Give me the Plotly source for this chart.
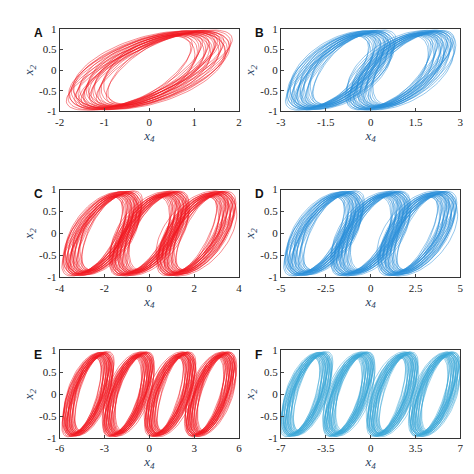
import numpy as np
import plotly.graph_objects as go

panels = ["A", "B", "C", "D", "E", "F"]
x_ranges = [2, 3, 4, 5, 6, 7]
x_ticks = [[-2, -1, 0, 1, 2], [-3, -1.5, 0, 1.5, 3], [-4, -2, 0, 2, 4],
           [-5, -2.5, 0, 2.5, 5], [-6, -3, 0, 3, 6], [-7, -3.5, 0, 3.5, 7]]
x_ticklabels = [["-2", "-1", "0", "1", "2"], ["-3", "-1.5", "0", "1.5", "3"],
                ["-4", "-2", "0", "2", "4"], ["-5", "-2.5", "0", "2.5", "5"],
                ["-6", "-3", "0", "3", "6"], ["-7", "-3.5", "0", "3.5", "7"]]
scroll_centers = [[0], [-1.0, 1.0], [-2.1, 0, 2.1], [-2.6, 0, 2.6],
                  [-4.1, -1.4, 1.4, 4.1], [-5.0, -1.7, 1.7, 5.0]]
scroll_rx = [1.85, 1.85, 1.8, 2.25, 1.75, 2.05]
loop_scales = [1.0, 0.98, 0.96, 0.94, 0.92, 0.9, 0.88, 0.86, 0.84, 0.82,
               0.8, 0.78, 0.76, 0.74, 0.72, 0.7, 0.68, 0.66, 0.64, 0.62,
               0.6, 0.58, 0.55, 0.52, 0.5, 0.97, 0.91, 0.85, 0.79, 0.73]
loop_phase = [0.7, 0.8, 0.9, 1.0, 1.1, 0.75, 0.85, 0.95, 1.05]
colors = ["#F01820", "#2A8ED8", "#F01820", "#2A8ED8", "#F01820", "#3AA6D6"]

y_ticks = [-1, -0.5, 0, 0.5, 1]
y_ticklabels = ["-1", "-0.5", "0", "0.5", "1"]

col_dom = [[0.10, 0.485], [0.575, 0.96]]
row_dom = [[0.789, 0.968], [0.43, 0.62], [0.082, 0.272]]

fig = go.Figure()
t = np.linspace(0, 2 * np.pi, 90)
for i, p in enumerate(panels):
    xs, ys = [], []
    for k, c in enumerate(scroll_centers[i]):
        for j, s in enumerate(loop_scales):
            ph = loop_phase[(j + 2 * k) % len(loop_phase)]
            xs += list(c + scroll_rx[i] * s * np.cos(t)) + [None]
            ys += list(0.97 * (0.7 + 0.3 * s) * np.cos(t - ph)) + [None]
    n = i + 1
    ax = "" if n == 1 else str(n)
    fig.add_trace(go.Scatter(x=xs, y=ys, mode="lines",
                             line=dict(color=colors[i], width=0.5),
                             xaxis="x" + ax, yaxis="y" + ax, showlegend=False))
    r, cidx = divmod(i, 2)
    serif = dict(family="Liberation Serif", size=11, color="#222")
    fig.layout["xaxis" + ax] = dict(domain=col_dom[cidx], anchor="y" + ax,
        range=[-x_ranges[i], x_ranges[i]], tickvals=x_ticks[i], ticktext=x_ticklabels[i],
        showgrid=False, zeroline=False, showline=True, mirror=True, linecolor="#333",
        linewidth=1, ticks="inside", ticklen=3, tickfont=serif,
        title=dict(text="<i>x</i><sub><i>4</i></sub>", font=dict(family="Liberation Serif", size=13), standoff=2))
    fig.layout["yaxis" + ax] = dict(domain=row_dom[r], anchor="x" + ax,
        range=[-1, 1], tickvals=y_ticks, ticktext=y_ticklabels,
        showgrid=False, zeroline=False, showline=True, mirror=True, linecolor="#333",
        linewidth=1, ticks="inside", ticklen=3, tickfont=serif,
        title=dict(text="<i>x</i><sub><i>2</i></sub>", font=dict(family="Liberation Serif", size=13), standoff=2))
    fig.add_annotation(text="<b>" + p + "</b>", xref="paper", yref="paper",
                       x=col_dom[cidx][0] - 0.06, y=row_dom[r][1] + 0.01,
                       xanchor="left", yanchor="top", showarrow=False,
                       font=dict(family="Liberation Sans", size=12, color="#111"))

fig.update_layout(width=474, height=474, margin=dict(l=0, r=0, t=0, b=0),
                  paper_bgcolor="white", plot_bgcolor="white")
fig.write_html("out.html")
